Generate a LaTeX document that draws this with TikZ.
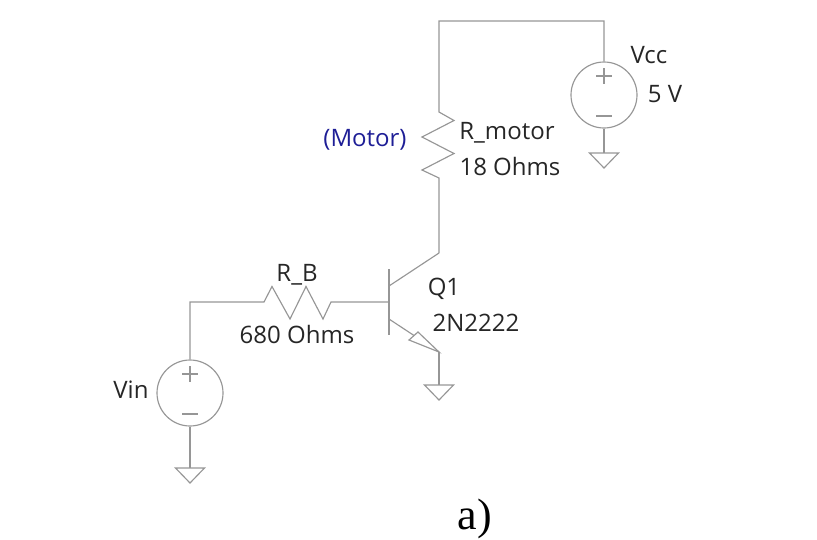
\documentclass[tikz,border=0pt]{standalone}
\usepackage{fontspec}
\setmainfont{Open Sans}
\usepackage{xcolor}
\usetikzlibrary{positioning}
\definecolor{wiregray}{RGB}{150,150,150}
\definecolor{motorblue}{RGB}{30,30,150}
% ground symbol below a named coordinate
\newcommand{\gndsym}[1]{\draw[wire] (#1) ++(-14.5,0) -- ++(29,0) -- ++(-14.5,15) -- cycle;}
% plus and minus marks inside a source
\newcommand{\srcmarks}[1]{
  \draw[wire] (#1) ++(-8,-19) -- ++(16,0) (#1) ++(0,-27) -- ++(0,16);
  \draw[wire] (#1) ++(-8,21) -- ++(16,0);}

\begin{document}
\begin{tikzpicture}[x=1pt,y=-1pt,
  wire/.style={draw=wiregray,line width=1.15pt,line join=miter},
  src/.style={circle,draw=wiregray,line width=1.15pt,minimum size=66pt,inner sep=0pt},
  lbl/.style={inner sep=0pt,font=\fontsize{24}{28}\selectfont,text=black!85}]
   \useasboundingbox (0,0) rectangle (817,539);

   % sources
   \node[src] (vcc) at (604,95) {};
   \node[src] (vin) at (190,393) {};
   \srcmarks{vcc.center}
   \srcmarks{vin.center}

   % top wire and motor resistor
   \coordinate (tl) at (439,21);
   \coordinate (tr) at (604,21);
   \coordinate (rm0) at (439,112);
   \coordinate (rm1) at (454,120.5);
   \coordinate (rm2) at (422,137);
   \coordinate (rm3) at (454,153.5);
   \coordinate (rm4) at (422,170);
   \coordinate (rm5) at (439,178);
   \coordinate (cc) at (439,253);
   \draw[wire] (vcc.north) -- (tr) -- (tl) -- (rm0) -- (rm1) -- (rm2) -- (rm3)
        -- (rm4) -- (rm5) -- (cc);

   % transistor
   \coordinate (bt) at (389,269);
   \coordinate (bb) at (389,335);
   \coordinate (bm) at (389,302);
   \coordinate (cb) at (389,286);
   \coordinate (eb) at (389,319);
   \coordinate (ee) at (439,352);
   \coordinate (a1) at (418,332);
   \coordinate (a2) at (409,340);
   \draw[wire] (bt) -- (bb);
   \draw[wire] (cc) -- (cb);
   \draw[wire] (eb) -- (ee);
   \draw[wire,fill=white] (ee) -- (a1) -- (a2) -- cycle;

   % base resistor
   \coordinate (lc) at (190,302);
   \coordinate (rb0) at (264,302);
   \coordinate (rb1) at (272,286.5);
   \coordinate (rb2) at (290,319);
   \coordinate (rb3) at (306,286.5);
   \coordinate (rb4) at (323,319);
   \coordinate (rb5) at (331,302);
   \draw[wire] (vin.north) -- (lc) -- (rb0) -- (rb1) -- (rb2) -- (rb3) -- (rb4)
        -- (rb5) -- (bm);

   % grounds
   \coordinate (g1) at (604,153);
   \coordinate (g2) at (439,385);
   \coordinate (g3) at (190,468);
   \draw[wire] (vcc.south) -- (g1);
   \draw[wire] (ee) -- (g2);
   \draw[wire] (vin.south) -- (g3);
   \gndsym{g1}
   \gndsym{g2}
   \gndsym{g3}

   % labels
   \node[lbl] (vccname) at (649,55) {Vcc};
   \node[lbl] (vccval) at (665,94) {5 V};
   \node[lbl] (rmname) at (507,133) {R\_motor};
   \node[lbl] (rmval) at (510,166) {18 Ohms};
   \node[lbl,text=motorblue] (motor) at (365,140) {(Motor)};
   \node[lbl] (qname) at (444,289) {Q1};
   \node[lbl] (qval) at (476,323) {2N2222};
   \node[lbl] (rbname) at (297,275) {R\_B};
   \node[lbl] (rbval) at (297,334) {680 Ohms};
   \node[lbl] (vinname) at (131,390) {Vin};
   \node[inner sep=0pt,font=\fontsize{44}{48}\selectfont,text=black] (cap) at (475,519)
        {\fontspec{Liberation Serif}a)};
\end{tikzpicture}
\end{document}
